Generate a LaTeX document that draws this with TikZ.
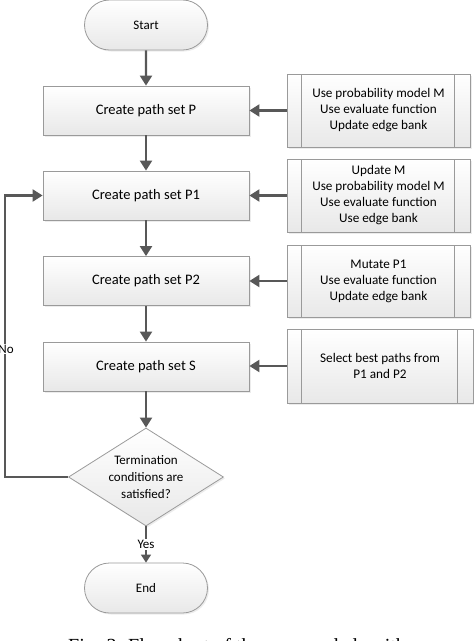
\documentclass[tikz,border=0pt]{standalone}
\usepackage{fontspec}
\setmainfont{Carlito}
\newfontfamily\capfont{Liberation Serif}
\usetikzlibrary{arrows.meta,shapes.geometric,shapes.misc,shadows}
\definecolor{edgegray}{HTML}{9A9A9A}
\definecolor{arrowgray}{HTML}{585858}
\tikzset{
  boxfill/.style={draw=edgegray, line width=0.8pt, top color=white, bottom color=black!9,
    drop shadow={shadow xshift=1.5pt, shadow yshift=-1.5pt, fill=black!12, opacity=0.6}},
  mainbox/.style={boxfill, rectangle, minimum width=206pt, minimum height=49pt, inner sep=0pt,
    font=\fontsize{14.5}{17}\selectfont},
  sidebox/.style={boxfill, rectangle, minimum width=183pt, minimum height=73pt, inner sep=0pt,
    align=center, font=\fontsize{13.2}{16}\selectfont,
    path picture={
      \draw[edgegray, line width=0.8pt] ([xshift=14pt]path picture bounding box.north west) -- ([xshift=14pt]path picture bounding box.south west);
      \draw[edgegray, line width=0.8pt] ([xshift=-16pt]path picture bounding box.north east) -- ([xshift=-16pt]path picture bounding box.south east);
    }},
  termbox/.style={boxfill, rounded rectangle, minimum width=123pt, minimum height=50pt, inner sep=0pt,
    font=\fontsize{13}{16}\selectfont},
  decbox/.style={boxfill, diamond, minimum width=155pt, minimum height=98pt, inner sep=0pt, aspect=1.58},
  arr/.style={draw=arrowgray, line width=2.2pt, -{Triangle[width=12pt,length=10pt]}},
  lbl/.style={fill=white, inner sep=1pt, font=\fontsize{13}{16}\selectfont},
}
\begin{document}
\begin{tikzpicture}[x=1pt,y=-1pt]
\useasboundingbox (0,0) rectangle (474,641);
\begin{scope}
\clip (0,0) rectangle (474,641);

\node[termbox] (start) at (146,25) {Start};
\node[mainbox] (P) at (146,110.5) {Create path set P};
\node[mainbox] (P1) at (146,195.5) {Create path set P1};
\node[mainbox] (P2) at (146,281) {Create path set P2};
\node[mainbox] (S) at (146,366.5) {Create path set S};
\node[decbox] (D) at (146,477) {};
\node[align=center, font=\fontsize{13}{17}\selectfont] (Dt) at (D.center) {Termination\\conditions are\\satisfied?};
\node[termbox] (end) at (146,588) {End};

\node[sidebox] (s1) at (378.5,110.5) {Use probability model M\\Use evaluate function\\Update edge bank};
\node[sidebox] (s2) at (378.5,195.5) {Update M\\Use probability model M\\Use evaluate function\\Use edge bank};
\node[sidebox, minimum height=72pt] (s3) at (378.5,281) {Mutate P1\\Use evaluate function\\Update edge bank};
\node[sidebox, minimum height=74pt, minimum width=186pt] (s4) at (380,366) {Select best paths from\\P1 and P2};

\draw[arr] (start) -- (P);
\draw[arr] (P) -- (P1);
\draw[arr] (P1) -- (P2);
\draw[arr] (P2) -- (S);
\draw[arr] (S) -- (D);

\draw[arr] (s1) -- (P);
\draw[arr] (s2) -- (P1);
\draw[arr] (s3) -- (P2);
\draw[arr] (s4.west) -- (S.east |- s4.west);

\draw[arr, -{Triangle[width=10pt,length=8pt]}, line width=1.5pt] (D) -- node[lbl] (yes) {Yes} (end);

\coordinate (lb) at (5,477);
\coordinate (lt) at (5,195.5);
\draw[arr] (D.west) -- (lb) -- (lt) -- (P1.west);
\node[lbl] (no) at (6,349) {No};

\node[font=\capfont\fontsize{20}{24}\selectfont, anchor=base west, inner sep=0pt] (cap) at (68,652) {Fig. 3. Flowchart of the proposed algorithm};
\end{scope}
\end{tikzpicture}
\end{document}
